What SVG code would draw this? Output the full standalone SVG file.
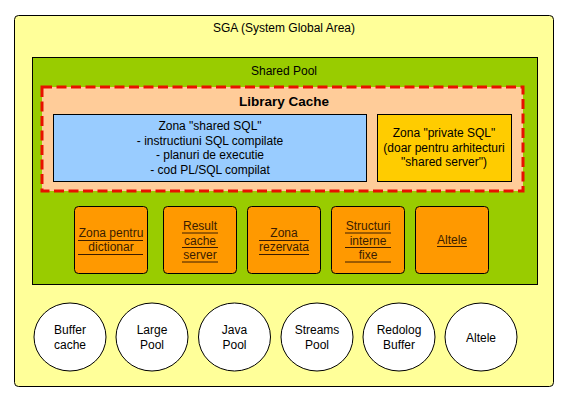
<svg xmlns="http://www.w3.org/2000/svg" width="568" height="402" viewBox="0 0 568 402">
<style>
text{font-family:"Liberation Sans",Arial,sans-serif;font-size:12px;fill:#000;text-anchor:middle}
.b{font-weight:bold;font-size:13.5px}
.u{fill:#3a1c00}
.ul{stroke:#3a1c00;stroke-width:1}
.orange{fill:#FF9900;stroke:#000;stroke-width:1}
.circ{fill:#fff;stroke:#000;stroke-width:1}
</style>
<rect width="568" height="402" fill="#fff"/>
<g id="sga">
<rect x="14.5" y="15.5" width="539" height="371" rx="4" fill="#FFFF99" stroke="#000"/>
<text x="284" y="32">SGA (System Global Area)</text>
</g>
<g id="shared-pool">
<rect x="32.5" y="57.5" width="505" height="227" fill="#99CC00" stroke="#000"/>
<text x="284" y="75">Shared Pool</text>
</g>
<g id="library-cache">
<rect x="42" y="87" width="481" height="104" fill="#FFCC99" stroke="#E81000" stroke-width="3" stroke-dasharray="10,4.5"/>
<text class="b" x="284" y="106">Library Cache</text>
</g>
<g id="shared-sql">
<rect x="53.5" y="114.5" width="313" height="67" fill="#99CCFF" stroke="#000"/>
<text x="210" y="130">Zona "shared SQL"</text>
<text x="210" y="144.5">- instructiuni SQL compilate</text>
<text x="210" y="159">- planuri de executie</text>
<text x="210" y="173.5">- cod PL/SQL compilat</text>
</g>
<g id="private-sql">
<rect x="377.5" y="114.5" width="134" height="67" fill="#FFCC00" stroke="#000"/>
<text x="444" y="137">Zona "private SQL"</text>
<text x="444" y="152">(doar pentru arhitecturi</text>
<text x="444" y="166">"shared server")</text>
</g>
<g id="dictionar">
<rect class="orange" x="74.5" y="206.5" width="73" height="67" rx="4"/>
<text class="u" x="111" y="237">Zona pentru</text>
<text class="u" x="111" y="251">dictionar</text>
<line class="ul" x1="78" y1="240.5" x2="143" y2="240.5"/>
<line class="ul" x1="78" y1="254.5" x2="143" y2="254.5"/>
</g>
<g id="result-cache">
<rect class="orange" x="163.5" y="206.5" width="73" height="67" rx="4"/>
<text class="u" x="200" y="230">Result</text>
<text class="u" x="200" y="244.5">cache</text>
<text class="u" x="200" y="259">server</text>
<line class="ul" x1="182" y1="233" x2="218" y2="233"/>
<line class="ul" x1="182" y1="247.5" x2="218" y2="247.5"/>
<line class="ul" x1="182" y1="262" x2="218" y2="262"/>
</g>
<g id="rezervata">
<rect class="orange" x="247.5" y="206.5" width="73" height="67" rx="4"/>
<text class="u" x="284" y="237">Zona</text>
<text class="u" x="284" y="251">rezervata</text>
<line class="ul" x1="259" y1="240.5" x2="309" y2="240.5"/>
<line class="ul" x1="259" y1="254.5" x2="309" y2="254.5"/>
</g>
<g id="structuri">
<rect class="orange" x="331.5" y="206.5" width="73" height="67" rx="4"/>
<text class="u" x="368" y="230">Structuri</text>
<text class="u" x="368" y="244.5">interne</text>
<text class="u" x="368" y="259">fixe</text>
<line class="ul" x1="345" y1="233" x2="391" y2="233"/>
<line class="ul" x1="345" y1="247.5" x2="391" y2="247.5"/>
<line class="ul" x1="345" y1="262" x2="391" y2="262"/>
</g>
<g id="altele-sp">
<rect class="orange" x="415.5" y="206.5" width="73" height="67" rx="4"/>
<text class="u" x="452" y="244">Altele</text>
<line class="ul" x1="437" y1="246.5" x2="467" y2="246.5"/>
</g>
<g id="buffer-cache">
<ellipse class="circ" cx="70" cy="337" rx="36" ry="34"/>
<text x="70" y="334">Buffer</text>
<text x="70" y="349">cache</text>
</g>
<g id="large-pool">
<ellipse class="circ" cx="152" cy="337" rx="36" ry="34"/>
<text x="152" y="334">Large</text>
<text x="152" y="349">Pool</text>
</g>
<g id="java-pool">
<ellipse class="circ" cx="234.5" cy="337" rx="36" ry="34"/>
<text x="234.5" y="334">Java</text>
<text x="234.5" y="349">Pool</text>
</g>
<g id="streams-pool">
<ellipse class="circ" cx="317" cy="337" rx="36" ry="34"/>
<text x="317" y="334">Streams</text>
<text x="317" y="349">Pool</text>
</g>
<g id="redolog-buffer">
<ellipse class="circ" cx="399" cy="337" rx="36" ry="34"/>
<text x="399" y="334">Redolog</text>
<text x="399" y="349">Buffer</text>
</g>
<g id="altele">
<ellipse class="circ" cx="481" cy="337" rx="36" ry="34"/>
<text x="481" y="342">Altele</text>
</g>
<g id="connectors"/>
</svg>
